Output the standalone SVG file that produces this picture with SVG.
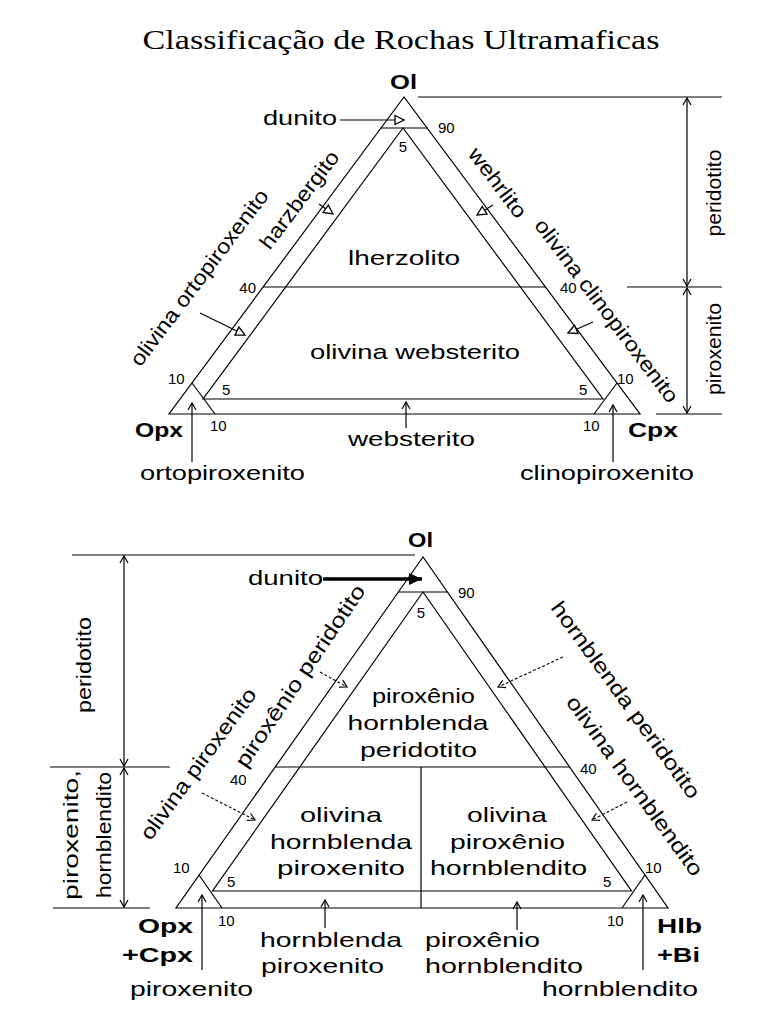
<svg xmlns="http://www.w3.org/2000/svg" width="768" height="1024" viewBox="0 0 768 1024">
<defs>
<style>
.ln{stroke:#000;stroke-width:1.2;fill:none}
.ar{stroke:#000;stroke-width:1.2;fill:none}
.ds{stroke:#000;stroke-width:1.1;fill:none;stroke-dasharray:3 2}
.t{font-family:"Liberation Sans",Arial,sans-serif;fill:#000;font-size:21px}
.s{font-family:"Liberation Sans",Arial,sans-serif;fill:#000;font-size:15px}
.b{font-family:"Liberation Sans",Arial,sans-serif;fill:#000;font-weight:bold;font-size:20px}
.m{text-anchor:middle}
.title{font-family:"Liberation Serif","Times New Roman",serif;font-size:28px;fill:#000}
</style>
<marker id="chev" viewBox="-10 -6 12 12" refX="0" refY="0" markerWidth="12" markerHeight="12" orient="auto-start-reverse" markerUnits="userSpaceOnUse"><path d="M-7,-4 L0,0 L-7,4" fill="none" stroke="#000" stroke-width="1.2"/></marker>
<marker id="tri" viewBox="-12 -7 14 14" refX="0" refY="0" markerWidth="14" markerHeight="14" orient="auto" markerUnits="userSpaceOnUse"><path d="M-9,-4.5 L0,0 L-9,4.5 Z" fill="#fff" stroke="#000" stroke-width="1.3"/></marker>
<marker id="head" viewBox="-14 -8 16 16" refX="0" refY="0" markerWidth="16" markerHeight="16" orient="auto" markerUnits="userSpaceOnUse"><path d="M-13,-6 L0,0 L-13,6 Z" fill="#000"/></marker>
</defs>
<rect width="768" height="1024" fill="#fff"/>
<text class="title m" x="401" y="49" textLength="517" lengthAdjust="spacingAndGlyphs">Classificação de Rochas Ultramaficas</text>

<g id="top-diagram">
<g id="top-triangle">
<polygon class="ln" points="404,97 169,414 640,414"/>
<line class="ln" x1="380.5" y1="128" x2="427.5" y2="128"/>
<polygon class="ln" points="403,128 203,399 603,399"/>
<line class="ln" x1="263" y1="287" x2="546" y2="287"/>
<line class="ln" x1="192" y1="383" x2="215" y2="414"/>
<line class="ln" x1="617" y1="383" x2="594" y2="414"/>
</g>
<g id="top-bracket">
<line class="ln" x1="418" y1="97" x2="722" y2="97"/>
<line class="ln" x1="627" y1="287" x2="722" y2="287"/>
<line class="ln" x1="656" y1="414" x2="722" y2="414"/>
</g>
<g id="top-labels">
<text class="b m" x="403.5" y="89" font-size="18" textLength="27" lengthAdjust="spacingAndGlyphs">Ol</text>
<text class="t m" x="300" y="125" textLength="74" lengthAdjust="spacingAndGlyphs">dunito</text>
<text class="t m" x="404" y="265" textLength="112" lengthAdjust="spacingAndGlyphs">lherzolito</text>
<text class="t m" x="415" y="359" textLength="210" lengthAdjust="spacingAndGlyphs">olivina websterito</text>
<text class="t m" x="411.5" y="446" textLength="127" lengthAdjust="spacingAndGlyphs">websterito</text>
<text class="t m" x="222.5" y="480" textLength="165" lengthAdjust="spacingAndGlyphs">ortopiroxenito</text>
<text class="t m" x="607" y="480" textLength="174" lengthAdjust="spacingAndGlyphs">clinopiroxenito</text>
<text class="b m" x="159" y="437" textLength="48" lengthAdjust="spacingAndGlyphs">Opx</text>
<text class="b m" x="653" y="437" textLength="50" lengthAdjust="spacingAndGlyphs">Cpx</text>
<text class="t m" transform="translate(305,204) rotate(-53)" textLength="117" lengthAdjust="spacingAndGlyphs">harzbergito</text>
<text class="t m" transform="translate(205,282) rotate(-53)" textLength="215" lengthAdjust="spacingAndGlyphs">olivina ortopiroxenito</text>
<text class="t m" transform="translate(492,187) rotate(53)" textLength="82" lengthAdjust="spacingAndGlyphs">wehrlito</text>
<text class="t m" transform="translate(601,315) rotate(53)" textLength="224" lengthAdjust="spacingAndGlyphs">olivina clinopiroxenito</text>
<text class="t m" font-size="17" transform="translate(721,193) rotate(-90)" textLength="87" lengthAdjust="spacingAndGlyphs">peridotito</text>
<text class="t m" font-size="17" transform="translate(721,349) rotate(-90)" textLength="92" lengthAdjust="spacingAndGlyphs">piroxenito</text>
<text class="s" x="438" y="133">90</text>
<text class="s m" x="403" y="152">5</text>
<text class="s" x="256" y="293" text-anchor="end">40</text>
<text class="s" x="560" y="293">40</text>
<text class="s" x="168" y="384">10</text>
<text class="s" x="222" y="395">5</text>
<text class="s" x="210" y="431">10</text>
<text class="s" x="579" y="395">5</text>
<text class="s" x="617" y="384">10</text>
<text class="s" x="583" y="431">10</text>
</g>
</g>

<g id="bottom-diagram">
<g id="bottom-triangle">
<polygon class="ln" points="423,557 176,908 668,908"/>
<line class="ln" x1="398.4" y1="592" x2="447.4" y2="592"/>
<polygon class="ln" points="423,592 212.5,891 631.5,891"/>
<line class="ln" x1="275" y1="767" x2="569.5" y2="767"/>
<line class="ln" x1="421" y1="767" x2="421" y2="908"/>
<line class="ln" x1="199" y1="875" x2="222" y2="908"/>
<line class="ln" x1="645" y1="875" x2="622" y2="908"/>
</g>
<g id="bottom-bracket">
<line class="ln" x1="72" y1="555" x2="415" y2="555"/>
<line class="ln" x1="50" y1="767" x2="170" y2="767"/>
<line class="ln" x1="53" y1="908" x2="150" y2="908"/>
</g>
<g id="bottom-labels">
<text class="b m" x="420.5" y="547" font-size="18" textLength="25" lengthAdjust="spacingAndGlyphs">Ol</text>
<text class="t m" x="285.5" y="585" font-size="22" textLength="75" lengthAdjust="spacingAndGlyphs">dunito</text>
<text class="t m" x="423.5" y="703" font-size="22" textLength="103" lengthAdjust="spacingAndGlyphs">piroxênio</text>
<text class="t m" x="418" y="730" font-size="22" textLength="141" lengthAdjust="spacingAndGlyphs">hornblenda</text>
<text class="t m" x="418.5" y="757" font-size="22" textLength="117" lengthAdjust="spacingAndGlyphs">peridotito</text>
<text class="t m" x="341" y="822" font-size="22" textLength="82" lengthAdjust="spacingAndGlyphs">olivina</text>
<text class="t m" x="341" y="849" font-size="22" textLength="142" lengthAdjust="spacingAndGlyphs">hornblenda</text>
<text class="t m" x="341" y="875" font-size="22" textLength="128" lengthAdjust="spacingAndGlyphs">piroxenito</text>
<text class="t m" x="507" y="822" font-size="22" textLength="80" lengthAdjust="spacingAndGlyphs">olivina</text>
<text class="t m" x="507.5" y="849" font-size="22" textLength="115" lengthAdjust="spacingAndGlyphs">piroxênio</text>
<text class="t m" x="508.5" y="875" font-size="22" textLength="157" lengthAdjust="spacingAndGlyphs">hornblendito</text>
<text class="b m" x="165.5" y="933" font-size="21" textLength="55" lengthAdjust="spacingAndGlyphs">Opx</text>
<text class="b m" x="157.5" y="962" font-size="21" textLength="71" lengthAdjust="spacingAndGlyphs">+Cpx</text>
<text class="b m" x="679.5" y="933" font-size="21" textLength="45" lengthAdjust="spacingAndGlyphs">Hlb</text>
<text class="b m" x="678.5" y="962" font-size="21" textLength="43" lengthAdjust="spacingAndGlyphs">+Bi</text>
<text class="t" x="260" y="947" font-size="22" textLength="142" lengthAdjust="spacingAndGlyphs">hornblenda</text>
<text class="t" x="261" y="973" font-size="22" textLength="123" lengthAdjust="spacingAndGlyphs">piroxenito</text>
<text class="t" x="425" y="947" font-size="22" textLength="115" lengthAdjust="spacingAndGlyphs">piroxênio</text>
<text class="t" x="425" y="973" font-size="22" textLength="158" lengthAdjust="spacingAndGlyphs">hornblendito</text>
<text class="t" x="130" y="996" font-size="22" textLength="123" lengthAdjust="spacingAndGlyphs">piroxenito</text>
<text class="t" x="542" y="996" font-size="22" textLength="156" lengthAdjust="spacingAndGlyphs">hornblendito</text>
<text class="t m" font-size="22" transform="translate(306,680) rotate(-56)" textLength="215" lengthAdjust="spacingAndGlyphs">piroxênio peridotito</text>
<text class="t m" font-size="22" transform="translate(204,768) rotate(-54)" textLength="182" lengthAdjust="spacingAndGlyphs">olivina piroxenito</text>
<text class="t m" font-size="22" transform="translate(620,704) rotate(54)" textLength="238" lengthAdjust="spacingAndGlyphs">hornblenda peridotito</text>
<text class="t m" font-size="22" transform="translate(629,790) rotate(54)" textLength="217" lengthAdjust="spacingAndGlyphs">olivina hornblendito</text>
<text class="t m" font-size="20" transform="translate(91,665) rotate(-90)" textLength="96" lengthAdjust="spacingAndGlyphs">peridotito</text>
<text class="t m" font-size="20" transform="translate(78,835) rotate(-90)" textLength="130" lengthAdjust="spacingAndGlyphs">piroxenito,</text>
<text class="t m" font-size="20" transform="translate(111,835) rotate(-90)" textLength="126" lengthAdjust="spacingAndGlyphs">hornblendito</text>
<text class="s" x="458" y="598" font-size="16">90</text>
<text class="s m" x="421" y="618" font-size="16">5</text>
<text class="s" x="230" y="785" font-size="16">40</text>
<text class="s" x="580" y="774" font-size="16">40</text>
<text class="s" x="173" y="873" font-size="16">10</text>
<text class="s" x="227" y="887" font-size="16">5</text>
<text class="s" x="218" y="926" font-size="16">10</text>
<text class="s" x="645" y="873" font-size="16">10</text>
<text class="s" x="603" y="887" font-size="16">5</text>
<text class="s" x="607" y="926" font-size="16">10</text>
</g>
</g>

<g id="connectors">
<line class="ar" x1="340" y1="120" x2="404" y2="120" marker-end="url(#tri)"/>
<line class="ar" x1="319" y1="204" x2="333" y2="214" marker-end="url(#tri)"/>
<line class="ar" x1="200" y1="313" x2="245" y2="335" marker-end="url(#tri)"/>
<line class="ar" x1="493" y1="205" x2="477" y2="215" marker-end="url(#tri)"/>
<line class="ar" x1="593" y1="322" x2="568" y2="333" marker-end="url(#tri)"/>
<line class="ar" x1="406" y1="428" x2="406" y2="402" marker-end="url(#chev)"/>
<line class="ar" x1="192" y1="462" x2="192" y2="403" marker-end="url(#chev)"/>
<line class="ar" x1="613" y1="462" x2="613" y2="405" marker-end="url(#chev)"/>
<line class="ar" x1="687" y1="98" x2="687" y2="286" marker-start="url(#chev)" marker-end="url(#chev)"/>
<line class="ar" x1="687" y1="288" x2="687" y2="413" marker-start="url(#chev)" marker-end="url(#chev)"/>

<line x1="323" y1="579" x2="422" y2="579" stroke="#000" stroke-width="3.5" marker-end="url(#head)"/>
<line class="ds" x1="320" y1="672" x2="347" y2="687" marker-end="url(#chev)"/>
<line class="ds" x1="202" y1="793" x2="255" y2="820" marker-end="url(#chev)"/>
<line class="ds" x1="563" y1="657" x2="498" y2="687" marker-end="url(#chev)"/>
<line class="ds" x1="627" y1="802" x2="592" y2="820" marker-end="url(#chev)"/>
<line class="ar" x1="202" y1="970" x2="202" y2="895" marker-end="url(#chev)"/>
<line class="ar" x1="325" y1="928" x2="325" y2="900" marker-end="url(#chev)"/>
<line class="ar" x1="517" y1="930" x2="517" y2="902" marker-end="url(#chev)"/>
<line class="ar" x1="643" y1="970" x2="643" y2="895" marker-end="url(#chev)"/>
<line class="ar" x1="124" y1="556" x2="124" y2="766" marker-start="url(#chev)" marker-end="url(#chev)"/>
<line class="ar" x1="124" y1="768" x2="124" y2="907" marker-start="url(#chev)" marker-end="url(#chev)"/>
</g>
</svg>
